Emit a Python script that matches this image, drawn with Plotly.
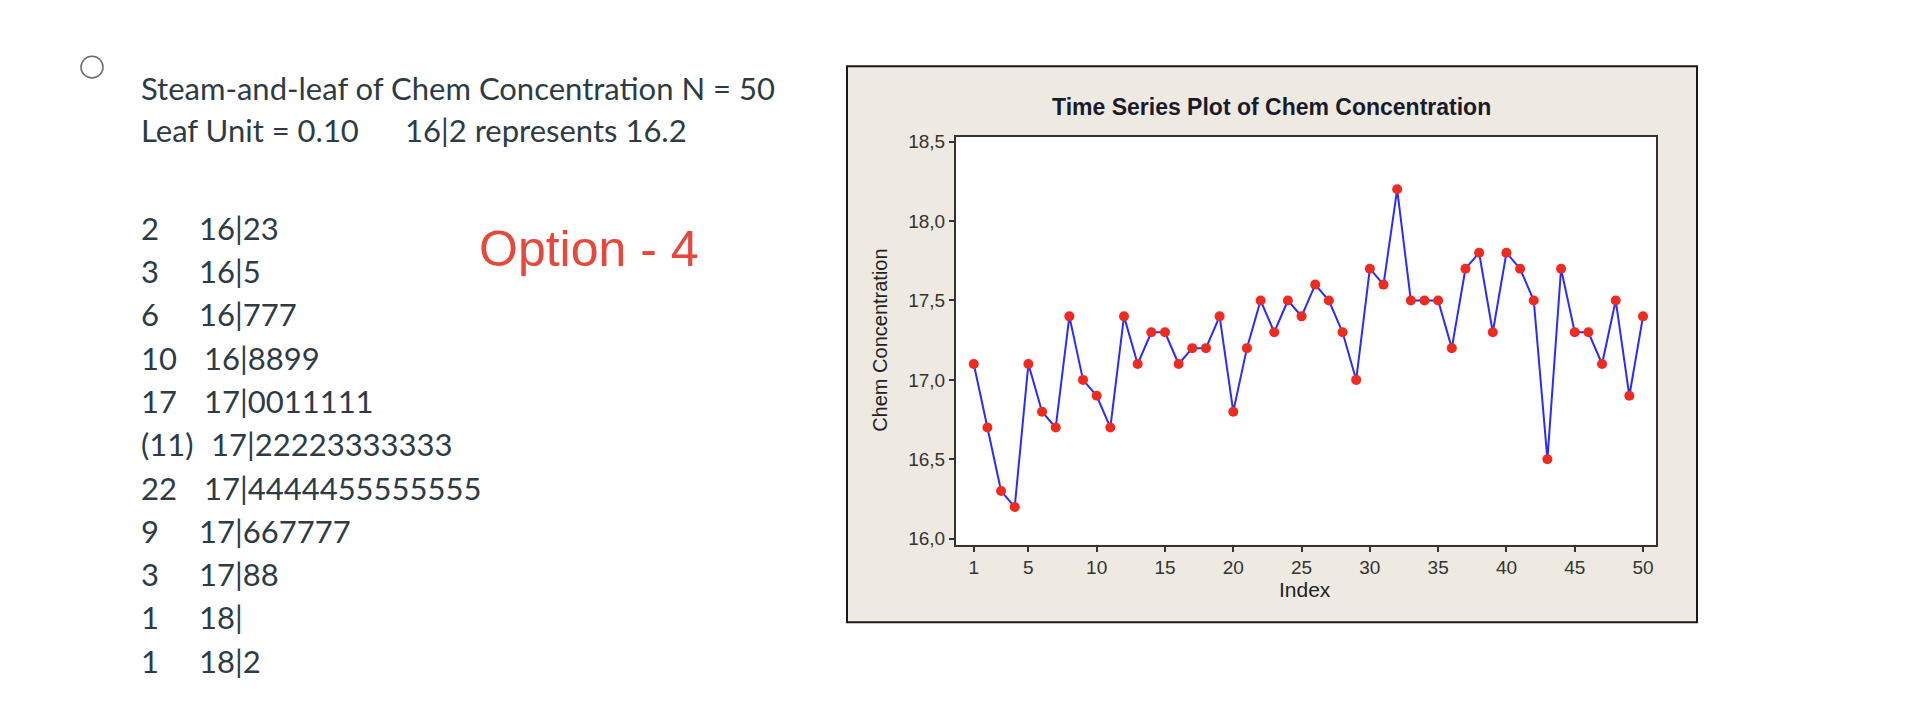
import plotly.graph_objects as go

W, H = 1924, 706
OFF = 8  # page body margin: convert page coordinates to figure coordinates

# ---- data ----
index = list(range(1, 51))
concentration = [17.1, 16.7, 16.3, 16.2, 17.1, 16.8, 16.7, 17.4, 17.0, 16.9,
                 16.7, 17.4, 17.1, 17.3, 17.3, 17.1, 17.2, 17.2, 17.4, 16.8,
                 17.2, 17.5, 17.3, 17.5, 17.4, 17.6, 17.5, 17.3, 17.0, 17.7,
                 17.6, 18.2, 17.5, 17.5, 17.5, 17.2, 17.7, 17.8, 17.3, 17.8,
                 17.7, 17.5, 16.5, 17.7, 17.3, 17.3, 17.1, 17.5, 16.9, 17.4]
x_ticks = [1, 5, 10, 15, 20, 25, 30, 35, 40, 45, 50]
y_ticks = [16.0, 16.5, 17.0, 17.5, 18.0, 18.5]
y_tick_text = ["16,0", "16,5", "17,0", "17,5", "18,0", "18,5"]

header_lines = ["Steam-and-leaf of Chem Concentration N = 50",
                "Leaf Unit = 0.10", "16|2 represents 16.2"]
depths = ["2", "3", "6", "10", "17", "(11)", "22", "9", "3", "1", "1"]
stems_leaves = ["16|23", "16|5", "16|777", "16|8899", "17|0011111",
                "17|22223333333", "17|4444455555555", "17|667777", "17|88",
                "18|", "18|2"]

# ---- geometry (page pixels) ----
plot_l, plot_r, plot_t, plot_b = 956, 1656, 133, 547
frame_l, frame_r, frame_t, frame_b = 847, 1697, 61, 626


def px(x):
    return (x - OFF) / W


def py(y):
    return 1 - (y - OFF) / H


fig = go.Figure()
fig.add_trace(go.Scatter(
    x=index, y=concentration, mode="lines+markers",
    line=dict(color="#2b2bff", width=2),
    marker=dict(color="#f02a1e", size=10, line=dict(width=0)),
    hoverinfo="x+y", showlegend=False,
))

shapes = [
    dict(type="rect", xref="paper", yref="paper", layer="below",
         x0=px(frame_l), x1=px(frame_r), y0=py(frame_b), y1=py(frame_t),
         fillcolor="#eeeae2", line=dict(color="#1a1a1a", width=2)),
    dict(type="rect", xref="paper", yref="paper", layer="below",
         x0=px(plot_l), x1=px(plot_r), y0=py(plot_b), y1=py(plot_t),
         fillcolor="#ffffff", line=dict(width=0)),
    dict(type="circle", xref="paper", yref="paper",
         x0=px(81), x1=px(103), y0=py(73), y1=py(51),
         line=dict(color="#6b6b6b", width=1.5), fillcolor="rgba(0,0,0,0)"),
]

text_font = dict(family="Lato", size=31, color="#2d3b45")
ann = []
ann.append(dict(text=header_lines[0], x=px(139), y=py(83)))
ann.append(dict(text=header_lines[1], x=px(139), y=py(126)))
ann.append(dict(text=header_lines[2], x=px(403), y=py(126)))
row_y0, row_dy = 225, 44.0
for i, (d, s) in enumerate(zip(depths, stems_leaves)):
    y = row_y0 + i * row_dy
    ann.append(dict(text=d, x=px(139), y=py(y)))
    xs = 196.7 if len(d) == 1 else (201.7 if len(d) == 2 else 209.3)
    ann.append(dict(text=s, x=px(xs), y=py(y)))
annotations = []
for a in ann:
    a.update(xref="paper", yref="paper", xanchor="left", yanchor="middle",
             showarrow=False, font=text_font)
    annotations.append(a)

annotations.append(dict(text="Option - 4", x=px(477), y=py(247), xref="paper",
                        yref="paper", xanchor="left", yanchor="middle",
                        showarrow=False,
                        font=dict(family="Liberation Sans, Arial", size=50,
                                  color="#e8483a")))
annotations.append(dict(text="<b>Time Series Plot of Chem Concentration</b>",
                        x=px(1271), y=py(102), xref="paper", yref="paper",
                        xanchor="center", yanchor="middle", showarrow=False,
                        font=dict(family="Liberation Sans, Arial", size=23,
                                  color="#1a1a2a")))
annotations.append(dict(text="Chem Concentration", x=px(880), y=py(340),
                        xref="paper", yref="paper", xanchor="center",
                        yanchor="middle", textangle=-90, showarrow=False,
                        font=dict(family="Liberation Sans, Arial", size=20,
                                  color="#222")))
annotations.append(dict(text="Index", x=px(1305), y=py(593),
                        xref="paper", yref="paper", xanchor="center",
                        yanchor="middle", showarrow=False,
                        font=dict(family="Liberation Sans, Arial", size=21,
                                  color="#222")))

axis_common = dict(showgrid=False, zeroline=False, showline=True,
                   linecolor="#333", linewidth=2, mirror=True,
                   ticks="outside", ticklen=5, tickwidth=2, tickcolor="#333",
                   tickfont=dict(family="Liberation Sans, Arial", size=19,
                                 color="#333"))

fig.update_layout(
    width=W, height=H, margin=dict(l=0, r=0, t=0, b=0, pad=0),
    paper_bgcolor="white", plot_bgcolor="white",
    xaxis=dict(domain=[px(plot_l), px(plot_r)], range=[-0.3, 50.95],
               tickvals=x_ticks, ticktext=[str(v) for v in x_ticks],
               **axis_common),
    yaxis=dict(domain=[py(plot_b), py(plot_t)], range=[15.963, 18.529],
               tickvals=y_ticks, ticktext=y_tick_text, **axis_common),
    shapes=shapes, annotations=annotations,
)

fig.write_html("out.html")
